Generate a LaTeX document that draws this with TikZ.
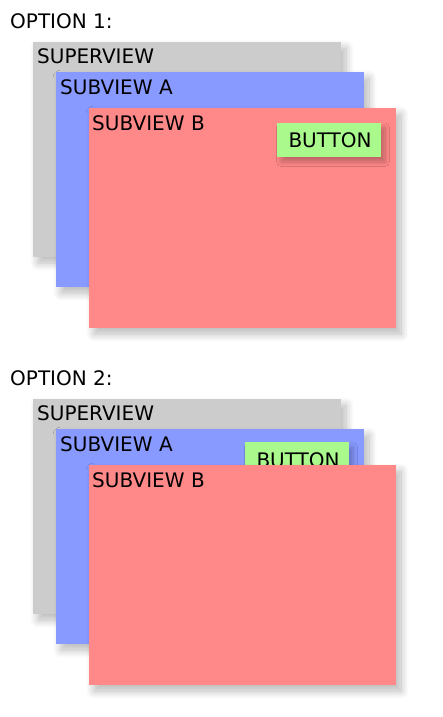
\documentclass[tikz,border=0pt]{standalone}
\usepackage{fontspec}
\setmainfont{DejaVu Sans}
\usetikzlibrary{shadows.blur}
\definecolor{superGray}{HTML}{CCCCCC}
\definecolor{subBlue}{HTML}{8899FF}
\definecolor{subRed}{HTML}{FF8888}
\definecolor{btnGreen}{HTML}{A9F98D}
\tikzset{
  x=1pt,y=-1pt,
  viewbox/.style={blur shadow={shadow xshift=5pt,shadow yshift=-6pt,shadow blur radius=8pt,shadow blur steps=12,shadow opacity=28}},
  btnbox/.style={blur shadow={shadow xshift=4pt,shadow yshift=-5pt,shadow blur radius=4.5pt,shadow blur steps=8,shadow opacity=25}},
  lbl/.style={anchor=base west,inner sep=0pt,font=\fontsize{20}{24}\selectfont},
  heading/.style={lbl}
}
\begin{document}
\begin{tikzpicture}
            \useasboundingbox (0,0) rectangle (442,717);
            % option 1
            \node[heading] (opt1) at (10,28.3) {OPTION 1:};
            \fill[superGray,viewbox] (33,42) rectangle (341,257);
            \node[lbl] (sup1) at (37,63.3) {SUPERVIEW};
            \fill[subBlue,viewbox] (56,72) rectangle (364,287);
            \node[lbl] (suba1) at (60,94.3) {SUBVIEW A};
            \fill[subRed,viewbox] (89,108) rectangle (396,328);
            \node[lbl] (subb1) at (92,130.3) {SUBVIEW B};
            \fill[btnGreen,btnbox] (277,122.5) rectangle (381,157);
            \node[lbl] (btn1) at (288.3,147.7) {BUTTON};

            % option 2
            \begin{scope}[yshift=-357pt]
            \node[heading] (opt2) at (10,28.3) {OPTION 2:};
            \fill[superGray,viewbox] (33,42) rectangle (341,257);
            \node[lbl] (sup2) at (37,63.3) {SUPERVIEW};
            \fill[subBlue,viewbox] (56,72) rectangle (364,287);
            \node[lbl] (suba2) at (60,94.3) {SUBVIEW A};
            \fill[btnGreen,btnbox] (245,85.3) rectangle (349,120);
            \node[lbl] (btn2) at (256.3,110.6) {BUTTON};
            \fill[subRed,viewbox] (89,108) rectangle (396,328);
            \node[lbl] (subb2) at (92,130.3) {SUBVIEW B};
            \end{scope}
        \end{tikzpicture}
\end{document}
